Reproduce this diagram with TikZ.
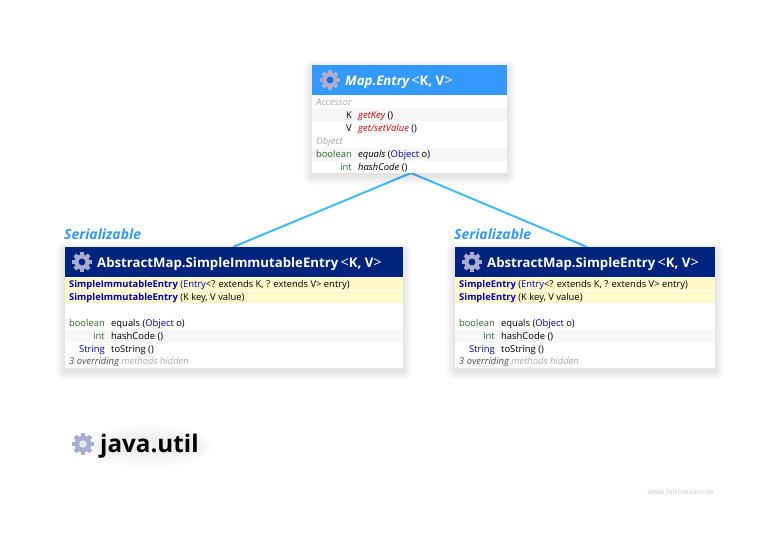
\documentclass[tikz,border=0pt]{standalone}
\usepackage{fontspec}
\setmainfont{Open Sans}
\definecolor{lightblue}{HTML}{3399FF}
\definecolor{navyhead}{HTML}{00247D}
\definecolor{linkblue}{HTML}{44BBFF}
\definecolor{ctoryellow}{HTML}{FFF9CC}
\definecolor{rowgray}{HTML}{F7F7F7}
\definecolor{typegreen}{HTML}{2E6B2E}
\definecolor{typeblue}{HTML}{0000BB}
\definecolor{getred}{HTML}{CC0000}
\definecolor{notegray}{HTML}{AAAAAA}
\definecolor{gearlilac}{HTML}{A9ADD2}
\tikzset{
  headbox/.style={anchor=north west,inner sep=0pt,minimum height=30pt},
  rowbox/.style={anchor=north west,inner sep=0pt,minimum height=13pt},
  bodybox/.style={anchor=north west,inner sep=0pt,fill=white},
  member/.style={anchor=base west,inner sep=0pt,font=\fontsize{9.4}{10}\selectfont},
  typename/.style={anchor=base east,inner sep=0pt,font=\fontsize{9.4}{10}\selectfont},
  note/.style={member,text=notegray,font=\fontsize{9.4}{10}\selectfont\itshape},
  title/.style={anchor=base west,inner sep=0pt,text=white,font=\fontsize{13.2}{15}\selectfont\bfseries},
  iface/.style={anchor=base west,inner sep=0pt,text=lightblue,font=\fontsize{14}{16}\selectfont\bfseries\itshape},
  link/.style={draw=linkblue,line width=2pt},
  pics/gear/.style 2 args={code={
    \foreach \a in {0,45,...,315}
      \fill[gearlilac,rotate=\a] (-.2*#1,.7*#1) rectangle (.2*#1,#1);
    \fill[gearlilac] (0,0) circle (.76*#1);
    \fill[#2] (0,0) circle (.34*#1);
  }}
}
\newcommand{\softshadow}[4]{
  \foreach \i in {1,...,9}
    \fill[black,opacity=.011,rounded corners=\i pt] (#1-\i,#2-\i+4) rectangle (#3+\i,#4+\i+3);
}
% one of the two lower classes: prefix, left, right, title, constructor
\newcommand{\lowerbox}[5]{
  \softshadow{#2}{247}{#3}{368}
  \node[bodybox,minimum width=#3pt-#2pt,minimum height=121pt] (#1body) at (#2,247) {};
  \node[headbox,fill=navyhead,minimum width=#3pt-#2pt] (#1head) at (#2,247) {};
  \node[rowbox,fill=ctoryellow,minimum width=#3pt-#2pt,minimum height=12.6pt] (#1rowa) at (#2,277.6) {};
  \node[rowbox,fill=ctoryellow,minimum width=#3pt-#2pt,minimum height=12.6pt] (#1rowb) at (#2,290.6) {};
  \node[rowbox,fill=rowgray,minimum width=#3pt-#2pt] (#1rowc) at (#2,329.5) {};
  \pic at (#2+17,262) {gear={10}{navyhead}};
  \node[title] (#1title) at (#2+32,267) {#4\,{\normalfont\fontsize{14.5}{15}\selectfont<}K, V{\normalfont\fontsize{14.5}{15}\selectfont>}};
  \node[iface] (#1iface) at (#2-1,239) {Serializable};
  \node[member] (#1ctora) at (#2+4,287) {\textcolor{typeblue}{\textbf{#5}} (\textcolor{typeblue}{Entry}<? extends K, ? extends V> entry)};
  \node[member] (#1ctorb) at (#2+4,300) {\textcolor{typeblue}{\textbf{#5}} (K key, V value)};
  \node[typename,text=typegreen] (#1typea) at (#2+40,326) {boolean};
  \node[member] (#1equals) at (#2+46,326) {equals (\textcolor{typeblue}{Object} o)};
  \node[typename,text=typegreen] (#1typeb) at (#2+40,339) {int};
  \node[member] (#1hash) at (#2+46,339) {hashCode ()};
  \node[typename,text=typeblue] (#1typec) at (#2+40,352) {String};
  \node[member] (#1string) at (#2+46,352) {toString ()};
  \node[note] (#1hidden) at (#2+4,364.5) {\textcolor{black!70}{3 overriding} methods hidden};
}
\begin{document}
\begin{tikzpicture}[x=1pt,y=-1pt]
  \useasboundingbox (0,0) rectangle (771,538);

  \coordinate (entrytip) at (411,173);
  \coordinate (immutabletip) at (233,247);
  \coordinate (simpletip) at (587,247);
  \draw[link] (entrytip) -- (immutabletip);
  \draw[link] (entrytip) -- (simpletip);

  % upper interface
  \softshadow{312}{65}{507}{173}
  \node[bodybox,minimum width=195pt,minimum height=108pt] (entrybody) at (312,65) {};
  \node[headbox,fill=lightblue,minimum width=195pt] (entryhead) at (312,65) {};
  \node[rowbox,fill=rowgray,minimum width=195pt] (entryrowa) at (312,108) {};
  \node[rowbox,fill=rowgray,minimum width=195pt] (entryrowb) at (312,147.5) {};
  \pic at (330,80) {gear={10}{lightblue!60!navyhead}};
  \node[title] (entrytitle) at (345,85) {\itshape Map.Entry\,{\normalfont\fontsize{14.5}{15}\selectfont<}{\upshape K, V}{\normalfont\fontsize{14.5}{15}\selectfont>}};
  \node[note] (accessor) at (316,105.5) {Accessor};
  \node[typename] (ktype) at (352,118) {K};
  \node[member] (getkey) at (358,118) {\textcolor{getred}{\itshape getKey} ()};
  \node[typename] (vtype) at (352,131) {V};
  \node[member] (getvalue) at (358,131) {\textcolor{getred}{\itshape get/setValue} ()};
  \node[note] (objectnote) at (316,144.5) {Object};
  \node[typename,text=typegreen] (booltype) at (352,157) {boolean};
  \node[member] (equalsm) at (358,157) {\textit{equals} (\textcolor{typeblue}{Object} o)};
  \node[typename,text=typegreen] (inttype) at (352,170) {int};
  \node[member] (hashm) at (358,170) {\textit{hashCode} ()};

  \lowerbox{immutable}{65}{403}{AbstractMap.SimpleImmutableEntry}{SimpleImmutableEntry}
  \lowerbox{simple}{455}{715}{AbstractMap.SimpleEntry}{SimpleEntry}

  % package name
  \foreach \i in {2,4,...,16}
    \fill[black,opacity=.006] (149,446) ellipse (50+\i*.8 and 6+\i);
  \pic at (83,444) {gear={11}{white!70!gearlilac}};
  \node[anchor=base west,inner sep=0pt,font=\fontsize{24.2}{28}\selectfont\bfseries] (package) at (100,452) {java.util};
  \node[anchor=base east,inner sep=0pt,text=black!20,font=\fontsize{7.3}{8}\selectfont] (site) at (714,494.5) {www.falkhausen.de};
\end{tikzpicture}
\end{document}
